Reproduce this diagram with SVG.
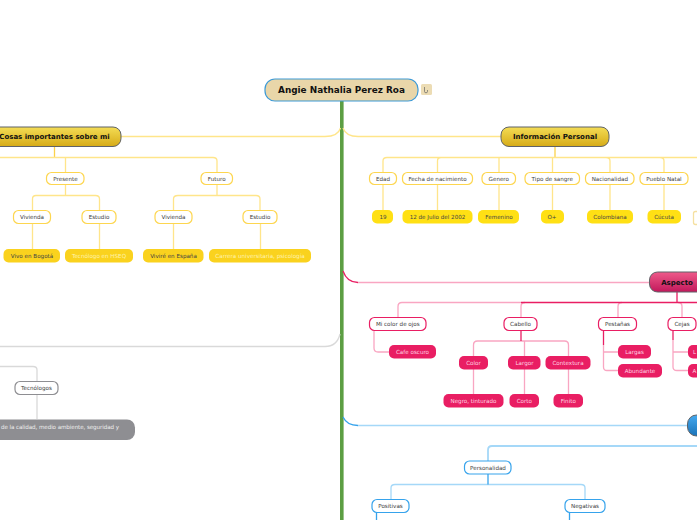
<svg xmlns="http://www.w3.org/2000/svg" width="697" height="520" viewBox="0 0 697 520">
<style>
text{font-family:"DejaVu Sans",Verdana,sans-serif;text-anchor:middle;dominant-baseline:central}
.c{fill:none;stroke-width:1.3}
.y{stroke:#ffe58a}.yd{stroke:#fbd24a}
.p{stroke:#f9a6c2}.pd{stroke:#e91e63}
.b{stroke:#a5d8f8}.bd{stroke:#36a3ec}
.g{stroke:#d9d9d9}
.n rect{fill:#fff;stroke-width:1.2}
.n text{font-size:5.6px;fill:#3c3c3c}
.ny rect{stroke:#fdd64f}.np rect{stroke:#e91e63}.nb rect{stroke:#36a3ec}.ng rect{stroke:#8e8e92}
.l text{font-size:5.6px}
.ly rect{fill:#ffe014}.ly text{fill:#444}
.lo rect{fill:#fad21e}
.lp rect{fill:#e91e63}.lp text{fill:#ffd3e2}
.m text{font-size:7px;font-weight:bold;fill:#111}
.m rect{stroke:#5f6368;stroke-width:1}
</style>
<defs>
<linearGradient id="gy" x1="0" y1="0" x2="0" y2="1"><stop offset="0" stop-color="#f4dc55"/><stop offset="1" stop-color="#d6ab17"/></linearGradient>
<linearGradient id="gp" x1="0" y1="0" x2="0" y2="1"><stop offset="0" stop-color="#ee5a8a"/><stop offset="1" stop-color="#c2185b"/></linearGradient>
<linearGradient id="gb" x1="0" y1="0" x2="0" y2="1"><stop offset="0" stop-color="#45aaf0"/><stop offset="1" stop-color="#1a73b8"/></linearGradient>
</defs>
<g id="connectors">
<rect x="340" y="100" width="3.6" height="420" fill="#5c9e43"/>
<path class="c y" d="M121 136.500H325Q338 136.500 340.500 128"/>
<path class="c y" d="M501 136.500H358Q346 136.500 343 128"/>
<path class="c p" d="M649 282.500H358"/>
<path class="c pd" d="M358 282.500Q347 282.500 343 271"/>
<path class="c b" d="M687 425.500H358"/>
<path class="c bd" d="M358 425.500Q347 425.500 343 417"/>
<path class="c g" d="M0 346.500H325Q337 346.500 340 334"/>
<path class="c yd" d="M54.500 146V157"/>
<path class="c y" d="M0 157.500H213Q217 157.500 217 161V172M65.500 157.500V172"/>
<path class="c y" d="M65.500 184.500V195.500M36 195.500H95.500Q99.500 195.500 99.500 199V210M32.500 210V199Q32.500 195.500 36 195.500M217 184.500V195.500M178 195.500H256Q260 195.500 260 199V210M173.500 210V199Q173.500 195.500 178 195.500"/>
<path class="c y" d="M32.500 223V249M99.500 223V249M173.500 223V249M260.500 223V249"/>
<path class="c yd" d="M555 146V157"/>
<path class="c y" d="M383 172V161Q383 157.500 387 157.500H697M437.500 172V161Q437.500 157.500 441 157.500M499 172V157.500M552.500 172V157.500M606 157.500Q610 157.500 610 161V172M660 157.500Q664 157.500 664 161V172"/>
<path class="c y" d="M383 184.500V210M437.500 184.500V210M499 184.500V210M552.500 184.500V210M610 184.500V210M664 184.500V210"/>
<path class="c p" d="M398 317.500V306.500Q398 302.500 402 302.500H521M521 317.500V306.500Q521 302.500 525 302.500M618 317.500V306.500Q618 302.500 622 302.500M678 302.500Q682 302.500 682 306.500V317.500"/>
<path class="c pd" d="M677 292V302.500H697M677 302.500H521"/>
<path class="c p" d="M374 330.500V348Q374 352 378 352H389"/>
<path class="c p" d="M473.500 356V345Q473.500 341 477.500 341H564.500Q568.500 341 568.500 345V356M524.500 341V356M473.500 369V394M524.500 369V394M568.500 369V394"/>
<path class="c pd" d="M521 330.500V341"/>
<path class="c p" d="M603.500 345V367Q603.500 370.500 607 370.500H618M603.500 352H618"/>
<path class="c pd" d="M603.500 330.500V345"/>
<path class="c p" d="M673 340V367Q673 370.500 677 370.500H688M673 352H688"/>
<path class="c pd" d="M673 330.500V340"/>
<path class="c b" style="stroke-width:1.800" d="M488 461V450Q488 446 492 446H697"/>
<path class="c b" d="M391 499V488Q391 484.500 395 484.500H581Q585 484.500 585 488V499"/>
<path class="c bd" d="M488 474V484.500"/>
<path class="c bd" d="M376.500 512V520M569.500 512V520"/>
<path class="c g" d="M0 366.500H33Q37 366.500 37 370V381M37 394V419"/>
</g>
<g id="root"><rect x="265" y="79" width="153" height="22" rx="10" fill="#e9d6a9" stroke="#3d9ad6" stroke-width="1.200"/><text x="341.500" y="90" font-size="8.900" font-weight="bold" fill="#111">Angie Nathalia Perez Roa</text></g>
<g id="tag"><rect x="421" y="84" width="11" height="11" rx="1.500" fill="#ecdcb4"/><path d="M424.500 87V91.500Q424.500 92.800 426 92.800T427.500 91.500V90" fill="none" stroke="#666" stroke-width=".7"/></g>
<g id="cosas" class="m"><rect x="-20" y="127" width="141" height="19.500" rx="8" fill="url(#gy)"/><text x="54.500" y="136.500">Cosas importantes sobre mi</text></g>
<g id="info" class="m"><rect x="501" y="127" width="108" height="19.500" rx="8" fill="url(#gy)"/><text x="555" y="136.500">Información Personal</text></g>
<g id="aspecto" class="m"><rect x="649.500" y="272" width="70" height="20" rx="8" fill="url(#gp)"/><text x="677" y="282.500">Aspecto</text></g>
<g id="azul" class="m"><rect x="687.500" y="415" width="40" height="21" rx="9" fill="url(#gb)"/></g>

<g id="presente" class="n ny"><rect x="46.500" y="172.500" width="37.500" height="12" rx="5"/><text x="65.500" y="178.500">Presente</text></g>
<g id="futuro" class="n ny"><rect x="201" y="172.500" width="31.500" height="12" rx="5"/><text x="216.700" y="178.500">Futuro</text></g>
<g id="viv1" class="n ny"><rect x="13.500" y="210.500" width="37" height="13" rx="5"/><text x="32" y="217">Vivienda</text></g>
<g id="est1" class="n ny"><rect x="82" y="210.500" width="34" height="13" rx="5"/><text x="99" y="217">Estudio</text></g>
<g id="viv2" class="n ny"><rect x="155" y="210.500" width="37" height="13" rx="5"/><text x="173.500" y="217">Vivienda</text></g>
<g id="est2" class="n ny"><rect x="243" y="210.500" width="34" height="13" rx="5"/><text x="260" y="217">Estudio</text></g>
<g id="l1" class="l lo"><rect x="3.500" y="249" width="56.500" height="13.500" rx="5"/><text x="32" y="256" fill="#444">Vivo en Bogotá</text></g>
<g id="l2" class="l lo"><rect x="65" y="249" width="68" height="13.500" rx="5"/><text x="99" y="256" fill="#fff3b0">Tecnólogo en HSEQ</text></g>
<g id="l3" class="l lo"><rect x="143" y="249" width="60.500" height="13.500" rx="5"/><text x="173.500" y="256" fill="#444">Viviré en España</text></g>
<g id="l4" class="l lo"><rect x="209" y="249" width="102" height="13.500" rx="5"/><text x="260" y="256" fill="#fff3b0">Carrera universitaria, psicología</text></g>

<g id="edad" class="n ny"><rect x="369.500" y="172.500" width="27" height="12" rx="5"/><text x="383" y="178.500">Edad</text></g>
<g id="fecha" class="n ny"><rect x="402.500" y="172.500" width="70" height="12" rx="5"/><text x="437.500" y="178.500">Fecha de nacimiento</text></g>
<g id="genero" class="n ny"><rect x="482" y="172.500" width="33.500" height="12" rx="5"/><text x="498.800" y="178.500">Genero</text></g>
<g id="tipo" class="n ny"><rect x="525" y="172.500" width="54.500" height="12" rx="5"/><text x="552.300" y="178.500">Tipo de sangre</text></g>
<g id="nac" class="n ny"><rect x="585.500" y="172.500" width="48.500" height="12" rx="5"/><text x="609.800" y="178.500">Nacionalidad</text></g>
<g id="pue" class="n ny"><rect x="640" y="172.500" width="48" height="12" rx="5"/><text x="664" y="178.500">Pueblo Natal</text></g>
<g id="i1" class="l ly"><rect x="372" y="210" width="21" height="13.500" rx="5"/><text x="383" y="216.800">19</text></g>
<g id="i2" class="l ly"><rect x="402.500" y="210" width="70" height="13.500" rx="5"/><text x="437.500" y="216.800">12 de Julio del 2002</text></g>
<g id="i3" class="l ly"><rect x="478" y="210" width="41" height="13.500" rx="5"/><text x="499" y="216.800">Femenino</text></g>
<g id="i4" class="l ly"><rect x="541" y="210" width="23" height="13.500" rx="5"/><text x="552" y="216.800">O+</text></g>
<g id="i5" class="l ly"><rect x="587" y="210" width="46" height="13.500" rx="5"/><text x="610" y="216.800">Colombiana</text></g>
<g id="i6" class="l ly"><rect x="647.500" y="210" width="33.500" height="13.500" rx="5"/><text x="664" y="216.800">Cúcuta</text></g>
<g id="i7"><rect x="693.500" y="211.500" width="20" height="13" rx="2" fill="#fff" stroke="#f5e0a0" stroke-width="1.300"/></g>

<g id="ojos" class="n np"><rect x="369.500" y="317.500" width="56.500" height="13" rx="5"/><text x="397.800" y="324">Mi color de ojos</text></g>
<g id="cabello" class="n np"><rect x="504" y="317.500" width="33" height="13" rx="5"/><text x="520.500" y="324">Cabello</text></g>
<g id="pest" class="n np"><rect x="598.500" y="317.500" width="38" height="13" rx="5"/><text x="617.500" y="324">Pestañas</text></g>
<g id="cejas" class="n np"><rect x="668" y="317.500" width="28" height="13" rx="5"/><text x="682" y="324">Cejas</text></g>
<g id="p1" class="l lp"><rect x="389" y="345" width="47" height="13.500" rx="5"/><text x="412.500" y="351.800">Cafe oscuro</text></g>
<g id="p2" class="l lp"><rect x="459" y="356" width="29" height="13.500" rx="5"/><text x="473.500" y="362.800">Color</text></g>
<g id="p3" class="l lp"><rect x="508" y="356" width="32.500" height="13.500" rx="5"/><text x="524.500" y="362.800">Largor</text></g>
<g id="p4" class="l lp"><rect x="545.500" y="356" width="45" height="13.500" rx="5"/><text x="568" y="362.800">Contextura</text></g>
<g id="p5" class="l lp"><rect x="443.500" y="394" width="60" height="13.500" rx="5"/><text x="473.500" y="400.800">Negro, tinturado</text></g>
<g id="p6" class="l lp"><rect x="509.500" y="394" width="29.500" height="13.500" rx="5"/><text x="524.300" y="400.800">Corto</text></g>
<g id="p7" class="l lp"><rect x="553.500" y="394" width="29.500" height="13.500" rx="5"/><text x="568.300" y="400.800">Finito</text></g>
<g id="p8" class="l lp"><rect x="618" y="345" width="33" height="13.500" rx="5"/><text x="634.500" y="351.800">Largas</text></g>
<g id="p9" class="l lp"><rect x="618" y="364" width="44" height="13.500" rx="5"/><text x="640" y="370.800">Abundante</text></g>
<g id="p10" class="l lp"><rect x="688" y="345" width="30" height="13.500" rx="5"/><text x="694.500" y="351.800">L</text></g>
<g id="p11" class="l lp"><rect x="688" y="364" width="44" height="13.500" rx="5"/><text x="694.500" y="370.800">A</text></g>

<g id="pers" class="n nb"><rect x="464.500" y="461" width="46.500" height="13" rx="5"/><text x="488" y="467.500">Personalidad</text></g>
<g id="pos" class="n nb"><rect x="372" y="499.500" width="37" height="13" rx="5"/><text x="390.500" y="506">Positivas</text></g>
<g id="neg" class="n nb"><rect x="565" y="499.500" width="40" height="13" rx="5"/><text x="585" y="506">Negativas</text></g>

<g id="tecno" class="n ng"><rect x="15" y="381.500" width="43" height="13" rx="5"/><text x="36.500" y="388">Tecnólogos</text></g>
<g id="gris"><rect x="-40" y="419.500" width="175" height="20.500" rx="8" fill="#8e8e92"/><text x="1" y="427" font-size="5.600" fill="#eee" style="text-anchor:start" textLength="118">de la calidad, medio ambiente, seguridad y</text></g>
</svg>
